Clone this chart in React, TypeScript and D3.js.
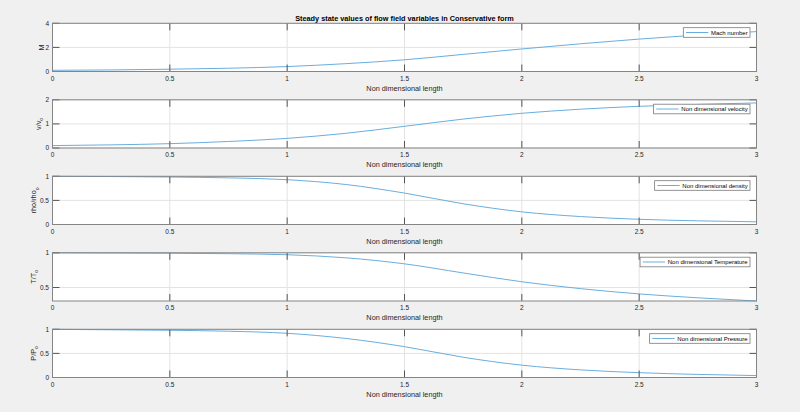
import React, { useEffect, useRef } from "react";
import * as d3 from "d3";

// ---- data ----
const xPos = [0, 0.25, 0.5, 0.75, 1, 1.25, 1.5, 1.75, 2, 2.25, 2.5, 2.75, 3];
const mach = [0.1, 0.13, 0.19, 0.27, 0.41, 0.65, 0.97, 1.42, 1.87, 2.3, 2.69, 3.03, 3.31];
const velocity = [0.1, 0.13, 0.18, 0.27, 0.4, 0.61, 0.9, 1.2, 1.44, 1.61, 1.73, 1.81, 1.87];
const density = [1.0, 0.995, 0.985, 0.968, 0.93, 0.83, 0.652, 0.43, 0.262, 0.165, 0.108, 0.076, 0.056];
const temperature = [1.0, 0.998, 0.994, 0.987, 0.972, 0.928, 0.841, 0.71, 0.583, 0.484, 0.408, 0.352, 0.306];
const pressure = [1.0, 0.99, 0.98, 0.96, 0.917, 0.81, 0.64, 0.42, 0.256, 0.158, 0.1, 0.064, 0.04];

const xTicks = [0, 0.5, 1, 1.5, 2, 2.5, 3];
const xLabel = "Non dimensional length";
const title = "Steady state values of flow field variables in Conservative form";

const series = [mach, velocity, density, temperature, pressure];
const yDomains: [number, number][] = [
  [0, 4],
  [0, 2],
  [0, 1],
  [d3.min(temperature) as number, 1],
  [0, 1],
];
const yTicks = [
  [0, 2, 4],
  [0, 1, 2],
  [0, 0.5, 1],
  [0.5, 1],
  [0, 0.5, 1],
];
const yLabelMain = ["M", "v/v", "rho/rho", "T/T", "P/P"];
const yLabelSub = ["", "o", "o", "o", "o"];
const legendLabels = [
  "Mach number",
  "Non dimensional velocity",
  "Non dimensional density",
  "Non dimensional Temperature",
  "Non dimensional Pressure",
];

// ---- layout ----
const W = 800;
const H = 412;
const LEFT = 52.5;
const RIGHT = 756.5;
const TOP0 = 23.3;
const STEP = 76.5;
const AX_H = 48.2;
const YLABEL_X = [44.3, 40.8, 36.3, 35.8, 35.8];
const FONT = "'Liberation Sans', Arial, Helvetica, sans-serif";
const LINE_COLOR = "#6aaede";

export default function App() {
  const ref = useRef<SVGSVGElement>(null);

  useEffect(() => {
    const svg = d3.select(ref.current);
    svg.selectAll("*").remove();

    svg.append("rect").attr("width", W).attr("height", H).attr("fill", "#f0f0f0");

    const x = d3.scaleLinear().domain([0, 3]).range([LEFT, RIGHT]);

    series.forEach((vals, i) => {
      const top = TOP0 + i * STEP;
      const bottom = top + AX_H;
      const y = d3.scaleLinear().domain(yDomains[i]).range([bottom, top]);
      const g = svg.append("g");

      g.append("rect")
        .attr("x", LEFT)
        .attr("y", top)
        .attr("width", RIGHT - LEFT)
        .attr("height", AX_H)
        .attr("fill", "#ffffff");

      // grid
      g.selectAll(".gx")
        .data(xTicks)
        .join("line")
        .attr("x1", (d) => x(d))
        .attr("x2", (d) => x(d))
        .attr("y1", top)
        .attr("y2", bottom)
        .attr("stroke", "#e3e3e3")
        .attr("stroke-width", 1);
      g.selectAll(".gy")
        .data(yTicks[i])
        .join("line")
        .attr("x1", LEFT)
        .attr("x2", RIGHT)
        .attr("y1", (d) => y(d))
        .attr("y2", (d) => y(d))
        .attr("stroke", "#e3e3e3")
        .attr("stroke-width", 1);

      // data line
      const line = d3
        .line<number>()
        .x((_, k) => x(xPos[k]))
        .y((d) => y(d))
        .curve(d3.curveMonotoneX);
      g.append("path")
        .attr("d", line(vals))
        .attr("fill", "none")
        .attr("stroke", LINE_COLOR)
        .attr("stroke-width", 1);

      // ticks (inside, all four sides)
      const TL = 7;
      xTicks.forEach((t) => {
        g.append("line").attr("x1", x(t)).attr("x2", x(t)).attr("y1", bottom).attr("y2", bottom - TL)
          .attr("stroke", "#555").attr("stroke-width", 1);
        g.append("line").attr("x1", x(t)).attr("x2", x(t)).attr("y1", top).attr("y2", top + TL)
          .attr("stroke", "#555").attr("stroke-width", 1);
      });
      yTicks[i].forEach((t) => {
        g.append("line").attr("x1", LEFT).attr("x2", LEFT + TL).attr("y1", y(t)).attr("y2", y(t))
          .attr("stroke", "#555").attr("stroke-width", 1);
        g.append("line").attr("x1", RIGHT).attr("x2", RIGHT - TL).attr("y1", y(t)).attr("y2", y(t))
          .attr("stroke", "#555").attr("stroke-width", 1);
      });

      // box
      g.append("rect")
        .attr("x", LEFT)
        .attr("y", top)
        .attr("width", RIGHT - LEFT)
        .attr("height", AX_H)
        .attr("fill", "none")
        .attr("stroke", "#858585")
        .attr("stroke-width", 1);

      // tick labels
      g.selectAll(".xl")
        .data(xTicks)
        .join("text")
        .attr("x", (d) => x(d))
        .attr("y", bottom + 9.4)
        .attr("text-anchor", "middle")
        .attr("font-family", FONT)
        .attr("font-size", 6.5)
        .attr("fill", "#262626")
        .text((d) => d3.format("")(d));
      g.selectAll(".yl")
        .data(yTicks[i])
        .join("text")
        .attr("x", LEFT - 3.5)
        .attr("y", (d) => y(d) + 2.3)
        .attr("text-anchor", "end")
        .attr("font-family", FONT)
        .attr("font-size", 6.5)
        .attr("fill", "#262626")
        .text((d) => d3.format("")(d));

      // x label
      g.append("text")
        .attr("x", (LEFT + RIGHT) / 2)
        .attr("y", bottom + 19.2)
        .attr("text-anchor", "middle")
        .attr("font-family", FONT)
        .attr("font-size", 7.3)
        .attr("fill", "#262626")
        .text(xLabel);

      // y label
      const yl = g
        .append("text")
        .attr("transform", `translate(${YLABEL_X[i]},${(top + bottom) / 2}) rotate(-90)`)
        .attr("text-anchor", "middle")
        .attr("font-family", FONT)
        .attr("font-size", 7.3)
        .attr("fill", "#262626");
      yl.append("tspan").text(yLabelMain[i]);
      if (yLabelSub[i]) {
        yl.append("tspan").attr("dy", 2.2).attr("font-size", 5.2).text(yLabelSub[i]);
      }

      // legend
      const lg = g.append("g");
      const txt = lg
        .append("text")
        .attr("font-family", FONT)
        .attr("font-size", 6)
        .attr("fill", "#000")
        .text(legendLabels[i]);
      const tw = (txt.node() as SVGTextElement).getComputedTextLength();
      const bw = tw + 30;
      const bx = RIGHT - 6.5 - bw;
      const by = top + 4.4;
      const bh = 9.6;
      lg.insert("rect", "text")
        .attr("x", bx)
        .attr("y", by)
        .attr("width", bw)
        .attr("height", bh)
        .attr("fill", "#ffffff")
        .attr("stroke", "#7a7a7a")
        .attr("stroke-width", 0.8);
      lg.append("line")
        .attr("x1", bx + 2.7)
        .attr("x2", bx + 25)
        .attr("y1", by + bh / 2)
        .attr("y2", by + bh / 2)
        .attr("stroke", LINE_COLOR)
        .attr("stroke-width", 1);
      txt.attr("x", bx + 27.7).attr("y", by + bh / 2 + 2.1);
    });

    // title
    svg
      .append("text")
      .attr("x", (LEFT + RIGHT) / 2)
      .attr("y", 20.8)
      .attr("text-anchor", "middle")
      .attr("font-family", FONT)
      .attr("font-size", 7.3)
      .attr("font-weight", "bold")
      .attr("fill", "#000")
      .text(title);
  }, []);

  return (
    <svg
      ref={ref}
      width={W}
      height={H}
      style={{ position: "absolute", left: 0, top: 0, display: "block" }}
    />
  );
}
